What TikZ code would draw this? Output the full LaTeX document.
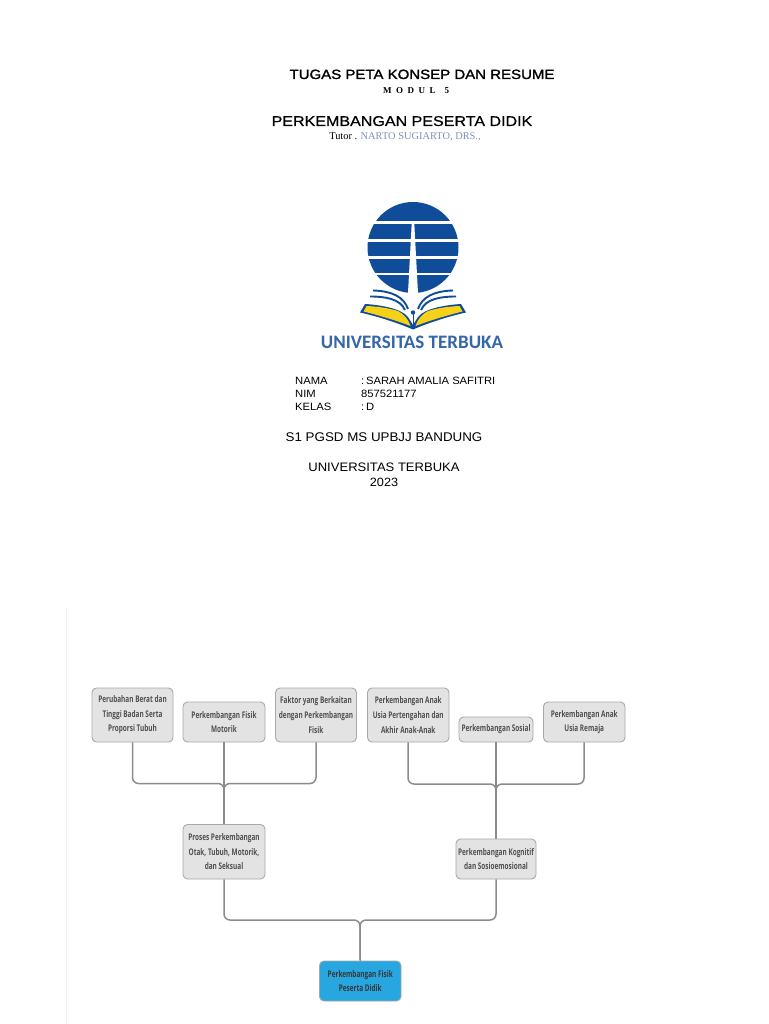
\documentclass[tikz,border=0pt]{standalone}
\usepackage{fontspec}
\setmainfont{Liberation Sans}
\newfontfamily\timesf{Liberation Serif}
\newfontfamily\boxf[FakeStretch=0.7]{Open Sans}
\newfontfamily\logof{Carlito}
\newfontfamily\headf[FakeBold=1.6,FakeStretch=1.12]{Liberation Sans}
\newfontfamily\courf[FakeBold=0.6,FakeStretch=1.13]{Liberation Sans}
\newfontfamily\lightf[FakeStretch=1.06]{Liberation Sans}
\usetikzlibrary{calc}
\definecolor{utblue}{HTML}{0F4C9A}
\definecolor{utyellow}{HTML}{F7D117}
\definecolor{boxfill}{HTML}{E3E3E3}
\definecolor{boxline}{HTML}{A8A8A8}
\definecolor{wire}{HTML}{8C8C8C}
\definecolor{boxtext}{HTML}{505050}
\definecolor{rootfill}{HTML}{27A6DF}
\definecolor{panelline}{HTML}{F2F2F2}
\tikzset{
  conceptbox/.style={draw=boxline,line width=0.9pt,fill=boxfill,rounded corners=4.5pt,inner sep=0pt,
    align=center,text=boxtext,font=\boxf\bfseries\fontsize{9.2}{14.6}\selectfont},
  rootbox/.style={conceptbox,fill=rootfill,text=boxtext!70!black},
  wireline/.style={draw=wire,line width=1.5pt,rounded corners=6pt},
  trunk/.style={draw=wire,line width=1.6pt},
  txt/.style={inner sep=0pt,anchor=base west},
  ctxt/.style={inner sep=0pt,anchor=base},
}
\newcommand{\cbox}[7][conceptbox]{% name,x0,y0,x1,y1,text
  \node[#1,minimum width=#4pt-#2pt,minimum height=#5pt-#3pt] (#7) at ({(#2+#4)/2},{(#3+#5)/2}) {#6};}
\begin{document}
\begin{tikzpicture}[x=1pt,y=-1pt]
\useasboundingbox (0,0) rectangle (768,1024);
\fill[white] (0,0) rectangle (768,1024);
\fill[panelline] (65.5,607) rectangle (67,1024);
% Title block
\node[ctxt,font=\headf\fontsize{13.4}{14}\selectfont] (title) at (422,79) {TUGAS PETA KONSEP DAN RESUME};
\node[ctxt,font=\timesf\bfseries\fontsize{9}{10}\selectfont] (modul) at (416,94) {M\,\,\,O\,\,\,D\,\,\,U\,\,\,L\,\,\,\,\,\,5};
\node[ctxt,font=\courf\fontsize{14.2}{15}\selectfont] (course) at (402,126) {PERKEMBANGAN PESERTA DIDIK};
\node[ctxt,font=\timesf\fontsize{10.4}{11}\selectfont] (tutor) at (405,140) {Tutor . \textcolor[HTML]{7F90B5}{NARTO SUGIARTO, DRS.,}};
% Logo
\begin{scope}
  \clip (413,247.5) circle (45.5);
  \fill[utblue] (360,200) rectangle (466,221.5);
  \fill[utblue] (360,224) rectangle (466,239);
  \fill[utblue] (360,241.5) rectangle (466,256);
  \fill[utblue] (360,258.5) rectangle (466,272.5);
  \fill[utblue] (360,275) rectangle (466,295);
\end{scope}
\fill[white] (411.8,222) -- (414.2,222) -- (418,293) -- (408,293) -- cycle;
% book lines
\draw[utblue,line width=1.9pt] (373,290.5) .. controls (392,291) and (404,297) .. (408,309);
\draw[utblue,line width=1.9pt] (370,296.5) .. controls (386,296.5) and (400,299) .. (405,310);
\draw[utblue,line width=1.9pt] (453,290.5) .. controls (434,291) and (422,297) .. (418,309);
\draw[utblue,line width=1.9pt] (456,296.5) .. controls (440,296.5) and (426,299) .. (421,310);
% book
\fill[utblue] (365,304) -- (360,312.5) .. controls (378,316.5) and (398,323) .. (413,329.5) .. controls (428,323) and (448,316.5) .. (466,312.5) -- (461,304) .. controls (444,305) and (424,309) .. (418,317) -- (413,325) -- (408,317) .. controls (402,309) and (382,305) .. (365,304) -- cycle;
\fill[utyellow] (366.5,306) -- (363.5,311.5) .. controls (378,315) and (398,321) .. (410.5,326) .. controls (408,318) and (402,313) .. (398,311) .. controls (388,308) and (378,306.5) .. (366.5,306) -- cycle;
\fill[utyellow] (459.5,306) -- (462.5,311.5) .. controls (448,315) and (428,321) .. (415.5,326) .. controls (418,318) and (424,313) .. (428,311) .. controls (438,308) and (448,306.5) .. (459.5,306) -- cycle;
\fill[utblue] (413,312.5) circle (2.2);
\draw[utblue,line width=0.8pt] (413,312.5) -- (413,327);
\node[ctxt,font=\logof\bfseries\fontsize{19}{19}\selectfont,text=utblue!85!white] (logotext) at (412,348) {UNIVERSITAS TERBUKA};
% Identity block
\begin{scope}[every node/.style={txt,font=\lightf\fontsize{10.6}{12}\selectfont}]
  \node (k1) at (295,384) {NAMA};
  \node (v1) at (361,384) {:\,SARAH AMALIA SAFITRI};
  \node (k2) at (295,397) {NIM};
  \node (v2) at (361,397) {857521177};
  \node (k3) at (295,410) {KELAS};
  \node (v3) at (361,410) {:\,D};
\end{scope}
\node[ctxt,font=\lightf\fontsize{12.6}{13}\selectfont] (prog) at (384,441) {S1 PGSD MS UPBJJ BANDUNG};
\node[ctxt,font=\lightf\fontsize{12.3}{13}\selectfont] (univ) at (384,471) {UNIVERSITAS TERBUKA};
\node[ctxt,font=\lightf\fontsize{12}{13}\selectfont] (year) at (384,486.5) {2023};
% Concept boxes
\cbox{92}{688}{173}{742}{Perubahan Berat dan\\Tinggi Badan Serta\\Proporsi Tubuh}{n1}
\cbox{183}{702}{265}{742}{Perkembangan Fisik\\Motorik}{n2}
\cbox{275.5}{688}{356.5}{742}{Faktor yang Berkaitan\\dengan Perkembangan\\Fisik}{n3}
\cbox{367.5}{688}{449}{742}{Perkembangan Anak\\Usia Pertengahan dan\\Akhir Anak-Anak}{n4}
\cbox{459}{717}{533}{742}{Perkembangan Sosial}{n5}
\cbox{543.5}{702}{625}{742}{Perkembangan Anak\\Usia Remaja}{n6}
\cbox{183}{824.5}{265}{879}{Proses Perkembangan\\Otak, Tubuh, Motorik,\\dan Seksual}{n7}
\cbox{456}{839}{536}{879}{Perkembangan Kognitif\\dan Sosioemosional}{n8}
\cbox[rootbox]{319.5}{961}{401}{1001}{Perkembangan Fisik\\Peserta Didik}{n9}
% Connectors
\draw[wireline] (n1.south) -- (n1.south |- 0,783.5) -- (n2.south |- 0,783.5) -- (n7.north);
\draw[wireline] (n3.south) -- (n3.south |- 0,783.5) -- (n2.south |- 0,783.5) -- (n7.north);
\draw[trunk] (n2.south) -- (n7.north);
\coordinate (m2) at (n5.south |- 0,784);
\draw[wireline] (n4.south -| 408,0) -- (408,784) -- (m2) -- (n8.north);
\draw[wireline] (n6.south -| 584,0) -- (584,784) -- (m2) -- (n8.north);
\draw[trunk] (n5.south) -- (n8.north);
\coordinate (m3) at (360,920);
\draw[wireline] (n7.south) -- (n7.south |- m3) -- (m3) -- (n9.north);
\draw[wireline] (n8.south) -- (n8.south |- m3) -- (m3) -- (n9.north);
\end{tikzpicture}
\end{document}
